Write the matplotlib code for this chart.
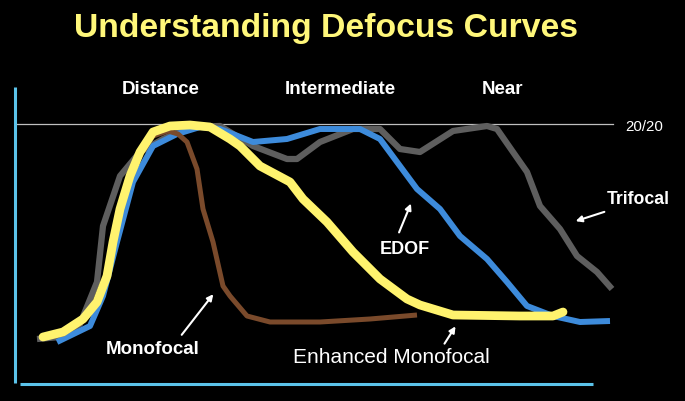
import matplotlib
matplotlib.use("Agg")
import matplotlib.pyplot as plt

# ---- data (in plot units) ----
trifocal_x = [37, 60, 80, 97, 103, 120, 140, 163, 190, 220, 253, 287, 297, 320, 353, 380,
              400, 420, 453, 487, 497, 513, 527, 540, 560, 577, 597, 612]
trifocal_y = [340, 338, 325, 283, 227, 177, 153, 140, 128, 127, 147, 160, 160, 143, 130, 130,
              150, 153, 132, 127, 130, 153, 173, 207, 230, 257, 273, 290]

edof_x = [57, 90, 103, 117, 133, 153, 177, 200, 220, 253, 287, 320, 360, 380, 397, 417,
          440, 460, 487, 507, 527, 553, 580, 610]
edof_y = [343, 327, 297, 243, 183, 147, 135, 128, 130, 143, 140, 130, 130, 140, 163, 190,
          210, 237, 260, 283, 307, 317, 323, 322]

mono_x = [40, 63, 83, 97, 107, 113, 120, 130, 140, 153, 168, 178, 187, 197, 203, 213, 223,
          230, 247, 270, 320, 370, 417]
mono_y = [339, 335, 322, 305, 278, 245, 212, 179, 156, 137, 132, 135, 143, 170, 210, 243, 287,
          297, 317, 323, 323, 320, 316]

enh_x = [43, 63, 83, 97, 107, 113, 120, 130, 140, 153, 170, 190, 210, 230, 240, 260, 290,
         303, 327, 353, 380, 407, 420, 453, 520, 553, 563]
enh_y = [338, 333, 320, 303, 277, 243, 210, 177, 153, 133, 127, 126, 128, 140, 147, 167, 183,
         200, 223, 253, 280, 300, 306, 316, 317, 317, 313]

zone_labels = ["Distance", "Intermediate", "Near"]
zone_x = [161, 340, 503]
acuity_level = 125
acuity_label = "20/20"
title = "Understanding Defocus Curves"

# ---- figure ----
fig = plt.figure(figsize=(6.85, 4.02), dpi=100, facecolor="black")
ax = fig.add_axes([0, 0, 1, 1], facecolor="black")
ax.set_xlim(0, 685)
ax.set_ylim(402, 0)
ax.axis("off")

# axes lines
axis_col = "#5BC3EA"
ax.plot([15, 15], [88, 384], color=axis_col, lw=2.2, solid_capstyle="butt")
ax.plot([20, 593], [385, 385], color=axis_col, lw=2.2, solid_capstyle="butt")

# 20/20 line
ax.plot([17, 613], [acuity_level, acuity_level], color="#BFBFBF", lw=0.9, zorder=1)
ax.text(625, acuity_level + 2, acuity_label, color="white", fontsize=10.8,
        family="Liberation Sans", va="center", ha="left")

# curves
ax.plot(trifocal_x, trifocal_y, color="#5E5E5E", lw=4.5, solid_capstyle="butt", solid_joinstyle="round", zorder=2)
ax.plot(edof_x, edof_y, color="#3D8BDB", lw=4.3, solid_capstyle="butt", solid_joinstyle="round", zorder=3)
ax.plot(mono_x, mono_y, color="#7A4A2B", lw=3.6, solid_capstyle="butt", solid_joinstyle="round", zorder=4)
ax.plot(enh_x, enh_y, color="#FFF36E", lw=6.3, solid_capstyle="round", solid_joinstyle="round", zorder=5)

# title
ax.text(326, 28, title, color="#FFF77A", fontsize=24.3, fontweight="bold",
        family="Liberation Sans", ha="center", va="center")

for lab, x in zip(zone_labels, zone_x):
    ax.text(x, 89, lab, color="white", fontsize=13.5, fontweight="bold",
            family="Liberation Sans", ha="center", va="center")

# annotations
def ann(txt, xy, xytext, tx, ty, bold=True, size=13, ha="center"):
    ax.annotate("", xy=xy, xytext=xytext,
                arrowprops=dict(arrowstyle="-|>", color="white", lw=1.5, mutation_scale=9))
    ax.text(tx, ty, txt, color="white", fontsize=size, fontweight="bold" if bold else "normal",
            family="Liberation Sans", ha=ha, va="center")

ann("Trifocal", (573, 223), (607, 212), 638, 200, size=12.7)
ann("EDOF", (412, 202), (398, 236), 405, 250, size=13)
ann("Monofocal", (215, 293), (180, 338), 153, 350, size=13.5)
ann("Enhanced Monofocal", (457, 325), (443, 347), 391, 358, bold=False, size=15)

fig.savefig("out.png", dpi=100, facecolor="black")
